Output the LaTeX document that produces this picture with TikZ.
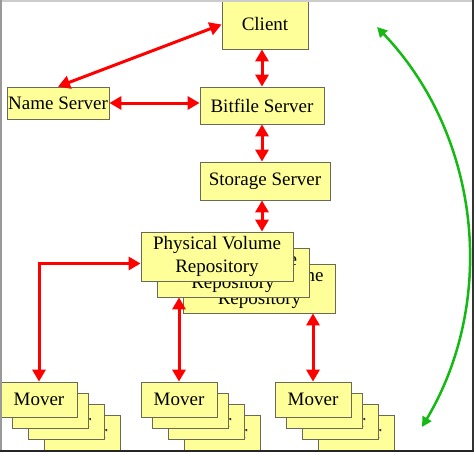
\documentclass[tikz,border=0pt]{standalone}
\usepackage{fontspec}
\setmainfont{Liberation Serif}
\usepackage{xcolor}
\usetikzlibrary{arrows.meta, positioning, calc}

\definecolor{boxfill}{RGB}{255,255,153}
\definecolor{boxline}{RGB}{105,105,85}
\definecolor{arcgreen}{RGB}{20,185,20}

\begin{document}
\begin{tikzpicture}[
    x=1pt, y=-1pt,
    every node/.style={align=center},
    box/.style={rectangle, inner sep=0pt, text centered, draw=boxline, line width=0.8pt, fill=boxfill, font=\fontsize{19}{23}\selectfont},
    mover/.style={box, minimum width=76pt, minimum height=35pt},
    pvr/.style={box, minimum width=152pt, minimum height=49pt},
    arrow/.style={red, line width=3pt, {Triangle[length=12pt,width=13pt]}-{Triangle[length=12pt,width=13pt]}},
    loop arrow/.style={arcgreen, line width=2.5pt, {Triangle[length=10pt,width=10pt]}-{Triangle[length=10pt,width=10pt]}}
]
\useasboundingbox (0,0) rectangle (474,452);

% Servers
\node (client) [box, minimum width=86pt, minimum height=49pt] at (265,24.5) {Client};
\node (name) [box, minimum width=102pt, minimum height=32pt] at (58,103) {Name Server};
\node (bitfile) [box, minimum width=124pt, minimum height=37pt] at (262,105.5) {Bitfile Server};
\node (storage) [box, minimum width=130pt, minimum height=38pt] at (265,181) {Storage Server};

% Physical Volume Repositories
\node (pvrc) [pvr] at (259.5,288.5) {Physical Volume\\Repository};
\node (pvrb) [pvr] at (233,272.5) {Physical Volume\\Repository};
\node (pvra) [pvr] at (217,256.5) {Physical Volume\\Repository};

% Movers
\foreach \g/\x in {1/1, 2/141, 3/275} {
  \node (m\g d) [mover] at (\x+81,432.5) {Mover};
  \node (m\g c) [mover] at (\x+65,421.5) {Mover};
  \node (m\g b) [mover] at (\x+49,410.5) {Mover};
  \node (m\g a) [mover] at (\x+38,399.5) {Mover};
}

% Arrows
\draw [arrow] (client.west) -- (name.north);
\draw [arrow] (bitfile.north |- client.south) -- (bitfile.north);
\draw [arrow] (name.east) -- (name.east -| bitfile.west);
\draw [arrow] (bitfile.south) -- (bitfile.south |- storage.north);
\draw [arrow] (bitfile.south |- storage.south) -- (bitfile.south |- pvra.north);
\draw [arrow] (m1a.north) |- ([yshift=-7pt]pvra.west);
\draw [arrow] (m2a.north) -- (m2a.north |- pvrb.south);
\draw [arrow] (m3a.north) -- (m3a.north |- pvrc.south);

% Loop arc
\coordinate (arctop) at (377,27);
\coordinate (arcbot) at (422,427);
\draw [loop arrow] (arctop) .. controls (480,135) and (498,299) .. (arcbot);

% Frame
\fill [gray!40] (0,0) rectangle (474,2);
\fill [gray!80] (0,0) rectangle (2,452);
\fill [black!80] (472,0) rectangle (474,452);
\fill [black!85] (0,450) rectangle (474,452);

\end{tikzpicture}
\end{document}
